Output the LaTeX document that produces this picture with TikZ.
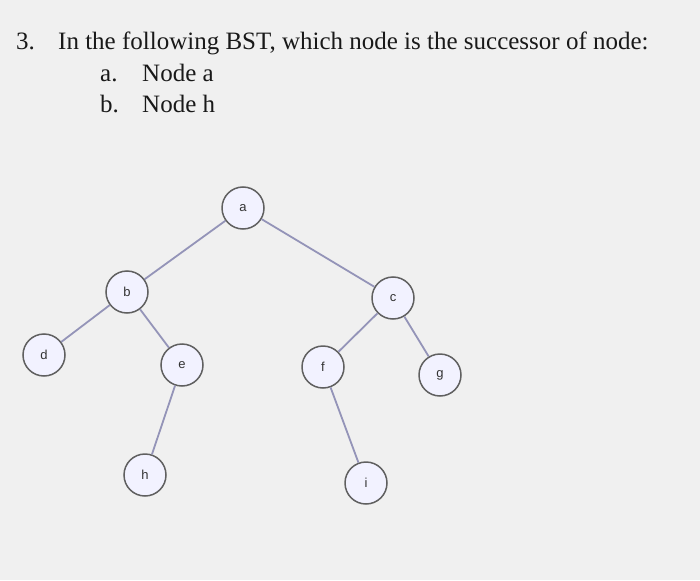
\documentclass[tikz,border=0pt]{standalone}
\usepackage{fontspec}
\setmainfont{Liberation Serif}
\newfontfamily\nodefont{Liberation Sans}
\begin{document}
\begin{tikzpicture}[x=1pt,y=-1pt,
  tn/.style={circle,draw=gray!75!black,line width=1.5pt,fill=white!95!blue,minimum size=42pt,inner sep=0pt,font=\nodefont\fontsize{13}{15}\selectfont,text=gray!40!black},
  ed/.style={draw=blue!20!gray!70,line width=1.8pt},
  tx/.style={anchor=base west,inner sep=0pt,font=\fontsize{25}{28}\selectfont,text=black!90}]
\fill[gray!12] (0,0) rectangle (700,580);
\useasboundingbox (0,0) rectangle (700,580);
\node[tx] (n3) at (16,50) {3.};
\node[tx] (q) at (58,50) {In the following BST, which node is the successor of node:};
\node[tx] (la) at (100,82) {a.};
\node[tx] (ta) at (142,82) {Node a};
\node[tx] (lb) at (100,113) {b.};
\node[tx] (tb) at (142,113) {Node h};
\node[tn] (a) at (243,208) {a};
\node[tn] (b) at (127,292) {b};
\node[tn] (c) at (393,298) {c};
\node[tn] (d) at (44,355) {d};
\node[tn] (e) at (182,365) {e};
\node[tn] (f) at (323,367) {f};
\node[tn] (g) at (440,375) {g};
\node[tn] (h) at (145,475) {h};
\node[tn] (i) at (366,483) {i};
\draw[ed] (a)--(b); \draw[ed] (a)--(c);
\draw[ed] (b)--(d); \draw[ed] (b)--(e);
\draw[ed] (e)--(h);
\draw[ed] (c)--(f); \draw[ed] (c)--(g);
\draw[ed] (f)--(i);
\end{tikzpicture}
\end{document}
